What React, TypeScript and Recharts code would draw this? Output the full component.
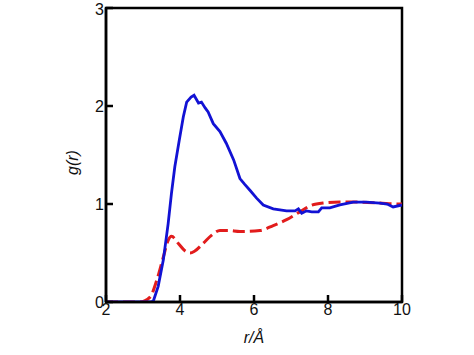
import { LineChart, Line, XAxis, YAxis, ReferenceArea } from "recharts";

// g(r) curves
const rBlue = [2, 3, 3.2, 3.28, 3.41, 3.55, 3.68, 3.77, 3.86, 3.98, 4.09, 4.18, 4.3, 4.38, 4.5, 4.58, 4.68, 4.76, 4.9, 5.08, 5.25, 5.45, 5.62, 5.75, 5.89, 6.07, 6.25, 6.52, 6.88, 7.11, 7.2, 7.29, 7.42, 7.56, 7.74, 7.83, 8.05, 8.32, 8.68, 9.04, 9.4, 9.6, 9.76, 10];
const gBlue = [0, 0, 0.0, 0.01, 0.16, 0.43, 0.8, 1.11, 1.38, 1.65, 1.89, 2.04, 2.09, 2.11, 2.03, 2.04, 1.98, 1.94, 1.82, 1.74, 1.62, 1.45, 1.26, 1.2, 1.14, 1.06, 0.99, 0.95, 0.93, 0.93, 0.95, 0.905, 0.93, 0.92, 0.92, 0.96, 0.96, 0.99, 1.02, 1.02, 1.01, 1.0, 0.97, 0.99];

const rRed = [2, 2.92, 3.19, 3.37, 3.55, 3.68, 3.77, 3.95, 4.14, 4.27, 4.4, 4.63, 4.85, 5.08, 5.3, 5.62, 6.16, 6.52, 6.88, 7.24, 7.51, 7.87, 8.32, 8.77, 9.4, 9.85, 10];
const gRed = [0, 0, 0.05, 0.22, 0.46, 0.63, 0.67, 0.6, 0.52, 0.5, 0.52, 0.6, 0.68, 0.73, 0.73, 0.72, 0.73, 0.78, 0.84, 0.92, 0.98, 1.01, 1.02, 1.02, 1.01, 1.0, 1.0];

const xTicks = [2, 4, 6, 8, 10];
const yTicks = [0, 1, 2, 3];

const blueData = rBlue.map((r, i) => ({ r, g: gBlue[i] }));
const redData = rRed.map((r, i) => ({ r, g: gRed[i] }));

const font = "Liberation Sans, Arial, sans-serif";
const tickStyle = { fontSize: 16, fill: "#111", fontFamily: font };

export default function App() {
  return (
    <div style={{ position: "absolute", left: 0, top: 0, background: "#fff" }}>
      <LineChart width={474} height={355} margin={{ top: 8, right: 72, left: 66, bottom: 8 }}>
        <XAxis
          type="number"
          dataKey="r"
          domain={[2, 10]}
          ticks={xTicks}
          allowDataOverflow
          height={45}
          stroke="#000"
          strokeWidth={2.5}
          tickSize={-7}
          tickMargin={9}
          tick={tickStyle}
          label={{
            value: "r/Å",
            position: "insideBottom",
            offset: 4,
            style: { fontSize: 16, fontStyle: "italic", fill: "#111", fontFamily: font },
          }}
        />
        <YAxis
          type="number"
          domain={[0, 3]}
          ticks={yTicks}
          allowDataOverflow
          width={40}
          stroke="#000"
          strokeWidth={2.5}
          tickSize={-7}
          tickMargin={9}
          tick={tickStyle}
          label={{
            value: "g(r)",
            angle: -90,
            position: "insideLeft",
            offset: 0,
            dx: 6,
            dy: 20,
            style: { fontSize: 16, fontStyle: "italic", fill: "#111", fontFamily: font },
          }}
        />
        <ReferenceArea x1={2} x2={10} y1={0} y2={3} fill="none" stroke="#000" strokeWidth={2.5} />
        <Line
          data={redData}
          dataKey="g"
          type="monotone"
          stroke="#e21c1c"
          strokeWidth={3}
          strokeDasharray="12 5"
          dot={false}
          isAnimationActive={false}
        />
        <Line
          data={blueData}
          dataKey="g"
          type="linear"
          stroke="#1212d4"
          strokeWidth={2.8}
          dot={false}
          isAnimationActive={false}
        />
      </LineChart>
    </div>
  );
}
